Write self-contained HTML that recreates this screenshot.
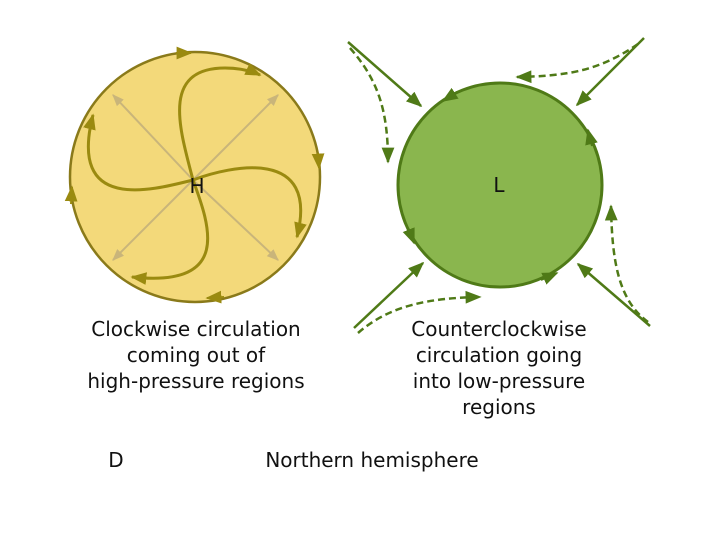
<!DOCTYPE html>
<html><head><style>
body{margin:0;background:#fff;width:720px;height:540px;overflow:hidden}
.t{font-family:"DejaVu Sans","Liberation Sans",sans-serif;font-size:20px;fill:#111;text-anchor:middle}
</style></head><body>
<svg width="720" height="540" viewBox="0 0 720 540" xmlns="http://www.w3.org/2000/svg">
<defs>
<marker id="y" viewBox="0 0 10 10" refX="9" refY="5" markerWidth="16" markerHeight="16" orient="auto" markerUnits="userSpaceOnUse"><path d="M0,1 L10,5 L0,9 Z" fill="#9a8a10"/></marker>
<marker id="gr" viewBox="0 0 10 10" refX="9" refY="5" markerWidth="12" markerHeight="12" orient="auto" markerUnits="userSpaceOnUse"><path d="M0,1 L10,5 L0,9 Z" fill="#c9b57a"/></marker>
<marker id="g" viewBox="0 0 10 10" refX="9" refY="5" markerWidth="16" markerHeight="16" orient="auto" markerUnits="userSpaceOnUse"><path d="M0,1 L10,5 L0,9 Z" fill="#4f7a17"/></marker>
</defs>
<circle cx="195" cy="177" r="125" fill="#f3d97a" stroke="#8a7a1a" stroke-width="2.5"/>
<g stroke="#c9b57a" stroke-width="2" marker-end="url(#gr)">
<line x1="193" y1="180" x2="113" y2="95"/><line x1="193" y1="180" x2="278" y2="95"/>
<line x1="193" y1="180" x2="113" y2="260"/><line x1="193" y1="180" x2="278" y2="260"/>
</g>
<g fill="none" stroke="#9a8a10" stroke-width="3" marker-end="url(#y)">
<path d="M193,180 C180,130 160,68 225,68 Q245,68 260,75"/>
<path d="M193,180 C230,166 320,146 297,237"/>
<path d="M193,180 C210,226 232,288 132,277"/>
<path d="M193,180 C150,191 68,212 93,115"/>
</g>
<g fill="none" stroke="#9a8a10" stroke-width="2" marker-end="url(#y)">
<line x1="176" y1="53" x2="191" y2="53"/>
<line x1="318" y1="153" x2="319" y2="168"/>
<line x1="224" y1="297" x2="207" y2="298"/>
<line x1="71" y1="204" x2="72" y2="187"/>
</g>
<text x="197" y="193" class="t">H</text>

<circle cx="500" cy="185" r="102" fill="#8ab64e" stroke="#4f7a17" stroke-width="3"/>
<text x="499" y="192" class="t">L</text>
<g fill="none" stroke="#4f7a17" stroke-width="2" marker-end="url(#g)">
<line x1="457" y1="92" x2="443" y2="101"/>
<line x1="592" y1="146" x2="588" y2="130"/>
<line x1="408" y1="228" x2="414" y2="243"/>
<line x1="541" y1="280" x2="557" y2="273"/>
</g>
<g fill="none" stroke="#4f7a17" stroke-width="2.5" marker-end="url(#g)">
<line x1="348" y1="42" x2="421" y2="106"/>
<line x1="644" y1="38" x2="577" y2="105"/>
<line x1="354" y1="328" x2="423" y2="263"/>
<line x1="650" y1="326" x2="578" y2="264"/>
<g stroke-dasharray="7,4">
<path d="M350,48 C378,80 388,110 388,162"/>
<path d="M638,44 C600,70 570,76 517,77"/>
<path d="M358,333 C390,305 430,298 480,297"/>
<path d="M648,322 C618,300 612,260 611,206"/>
</g>
</g>
<text class="t" x="196" y="336">Clockwise circulation</text>
<text class="t" x="196" y="362">coming out of</text>
<text class="t" x="196" y="388">high-pressure regions</text>
<text class="t" x="499" y="336">Counterclockwise</text>
<text class="t" x="499" y="362">circulation going</text>
<text class="t" x="499" y="388">into low-pressure</text>
<text class="t" x="499" y="414">regions</text>
<text class="t" x="116" y="467">D</text>
<text class="t" x="372" y="467">Northern hemisphere</text>
</svg>
</body></html>
